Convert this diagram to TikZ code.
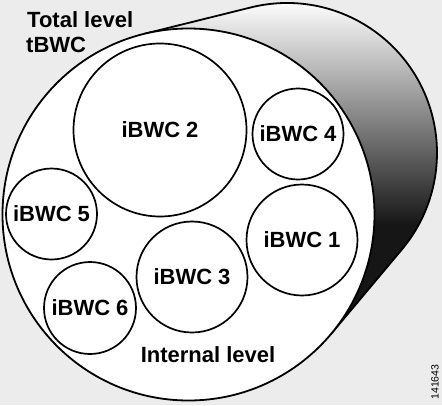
\documentclass[tikz,border=0pt]{standalone}
\usepackage{fontspec}
\setmainfont{Liberation Sans}
\usetikzlibrary{calc}
\definecolor{bg}{RGB}{236,236,236}
\definecolor{darkband}{RGB}{22,22,22}
\begin{document}
\begin{tikzpicture}[x=1pt,y=-1pt,
  lbl/.style={font=\bfseries\fontsize{22}{25}\selectfont, inner sep=0pt},
  ring/.style={circle, draw, line width=1.7pt, fill=white, inner sep=0pt,
               minimum size=#1, font=\bfseries\fontsize{22}{25}\selectfont},
  rim/.style={line width=1.8pt}]
\fill[bg] (0,0) rectangle (442,405);
\useasboundingbox (0,0) rectangle (442,405);
% circle centres of the front face and the far end
\coordinate (C1) at (188.5,214.5);
\coordinate (C2) at (287,153);
% tangent points of the two outline lines
\coordinate (P1a) at ($(C1)+(-103.9:186)$);
\coordinate (P2a) at ($(C2)+(-103.9:150)$);
\coordinate (P1b) at ($(C1)+(39.9:186)$);
\coordinate (P2b) at ($(C2)+(39.9:150)$);
% shaded body of the cylinder
\begin{scope}
  \clip (P1a) -- (P2a) arc[start angle=-103.9, end angle=39.9, radius=150]
        -- (P1b) arc[start angle=39.9, end angle=256.1, radius=186] -- cycle;
  \shade[top color=white, bottom color=darkband] (120,0) rectangle (442,225);
  \fill[darkband] (120,225) rectangle (442,405);
\end{scope}
\draw[rim] (P1a) -- (P2a) arc[start angle=-103.9, end angle=39.9, radius=150]
        -- (P1b);
% front face
\draw[rim, fill=white] (C1) circle[radius=186];
% internal circles
\node[ring=173pt] (c2) at (160,130) {iBWC 2};
\node[ring=91pt]  (c4) at (298,134) {iBWC 4};
\node[ring=111pt] (c1) at (302,240) {iBWC 1};
\node[ring=91pt]  (c5) at (51.5,214) {iBWC 5};
\node[ring=92pt]  (c6) at (90,308) {iBWC 6};
\node[ring=111pt] (c3) at (192,277) {iBWC 3};
% labels
\node[lbl, anchor=base west] (tl) at (27,27) {Total level};
\node[lbl, anchor=base west] (tb) at (26,52) {tBWC};
\node[lbl, anchor=base] (il) at (208,362) {Internal level};
\node[font=\fontsize{10.5}{11}\selectfont, inner sep=0pt, rotate=90] (num) at (435,382) {141643};
\end{tikzpicture}
\end{document}
